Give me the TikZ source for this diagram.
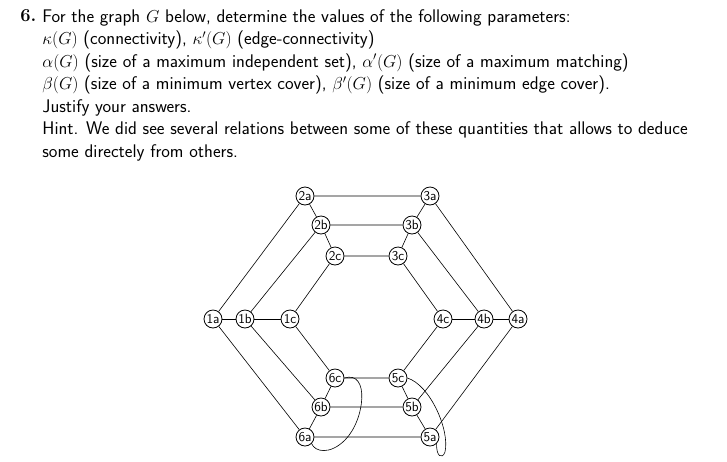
\documentclass[tikz,border=0pt]{standalone}
\begin{document}
\begin{tikzpicture}[x=1pt,y=-1pt,line width=0.8pt,
  v/.style={circle,draw,fill=white,inner sep=0pt,minimum size=18pt,font=\sffamily\fontsize{13.5}{13.5}\selectfont},
  txt/.style={anchor=north west,inner sep=0pt,align=left,font=\sffamily\fontsize{18.3}{22.5}\selectfont}]
\useasboundingbox[fill=white] (0,0) rectangle (727,461);
\node[anchor=north west,inner sep=0pt,font=\bfseries\fontsize{18.3}{22.5}\selectfont] (num) at (20,9) {6.};
\node[txt] (t) at (42,9) {For the graph $G$ below, determine the values of the following parameters:\\
$\kappa(G)$ (connectivity), $\kappa'(G)$ (edge-connectivity)\\
$\alpha(G)$ (size of a maximum independent set), $\alpha'(G)$ (size of a maximum matching)\\
$\beta(G)$ (size of a minimum vertex cover), $\beta'(G)$ (size of a minimum edge cover).\\
Justify your answers.\\
Hint. We did see several relations between some of these quantities that allows to deduce\\
some directely from others.};
\node[v] (2a) at (305,196) {2a}; \node[v] (3a) at (430,196) {3a};
\node[v] (2b) at (321,225) {2b}; \node[v] (3b) at (412,225) {3b};
\node[v] (2c) at (335,256) {2c}; \node[v] (3c) at (398,256) {3c};
\node[v] (1a) at (213,319) {1a}; \node[v] (1b) at (245,319) {1b}; \node[v] (1c) at (290,319) {1c};
\node[v] (4c) at (443,319) {4c}; \node[v] (4b) at (484,319) {4b}; \node[v] (4a) at (518,319) {4a};
\node[v] (6c) at (335,378) {6c}; \node[v] (5c) at (398,378) {5c};
\node[v] (6b) at (321,407) {6b}; \node[v] (5b) at (412,407) {5b};
\node[v] (6a) at (305,437) {6a}; \node[v] (5a) at (430,437) {5a};
\begin{scope}[line width=0.6pt]
\foreach \l in {a,b,c}{
  \draw (1\l)--(2\l)--(3\l)--(4\l)--(5\l)--(6\l)--(1\l);}
\foreach \n in {1,2,3,4,5,6}{\draw (\n a)--(\n b)--(\n c);}
\draw (6c.east) .. controls (370,370) and (365,420) .. (345,440) .. controls (330,455) and (315,452) .. (6a.south east);
\draw (5c.east) .. controls (430,385) and (450,430) .. (445,452) .. controls (442,460) and (436,456) .. (5a.south east);
\end{scope}
\end{tikzpicture}
\end{document}
